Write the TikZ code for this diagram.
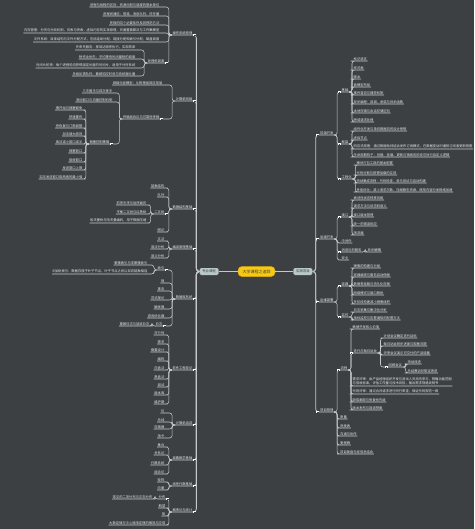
\documentclass[tikz,border=0pt]{standalone}
\usepackage{fontspec}
\newfontfamily\cjkfont{Noto Sans CJK SC}
\usetikzlibrary{positioning}

\definecolor{bg}{HTML}{3C4043}
\definecolor{linegray}{HTML}{C4C8C9}
\definecolor{leaftext}{HTML}{E6E8E8}
\definecolor{mainfill}{HTML}{B9C8C4}
\definecolor{centerfill}{HTML}{F6C915}
\definecolor{centerdraw}{HTML}{DFA90A}

\newcommand{\leaffont}{\cjkfont\fontsize{3.3}{4}\selectfont}

\tikzset{
  lleaf/.style={anchor=south east, inner sep=0.5pt, text=leaftext, font=\leaffont, yshift=-2pt},
  rleaf/.style={lleaf, anchor=south west, align=left},
  branch/.style={draw=linegray, line width=0.55pt, rounded corners=2.5pt},
  trunk/.style={draw=linegray, line width=0.8pt, rounded corners=3pt},
  foldbox/.style={rectangle, fill=white, minimum size=2.8pt, inner sep=0pt,
    path picture={\draw[bg, line width=0.35pt] ([xshift=0.6pt]path picture bounding box.west) -- ([xshift=-0.6pt]path picture bounding box.east);}},
  mainnode/.style={rounded corners=1.5pt, fill=mainfill, text=bg, font=\cjkfont\fontsize{3.4}{4}\selectfont,
    minimum width=19pt, minimum height=7pt, inner sep=0.5pt},
  centernode/.style={rounded corners=4pt, fill=centerfill, draw=centerdraw, line width=0.5pt, text=bg,
    font=\cjkfont\fontsize{4}{5}\selectfont, minimum width=37pt, minimum height=10pt, inner sep=0.5pt}
}

% children hanging to the left of a node
\newcommand{\lkids}[3]{%
  \foreach \yy/\lbl [count=\kk] in {#3} {
    \node[lleaf] (#1-\kk) at (#2,\yy) {\lbl};
    \draw[branch] (#1.south west) -- ++(-3,0) |- (#1-\kk.south east) -- (#1-\kk.south west);
  }}
% children hanging to the right of a node
\newcommand{\rkids}[3]{%
  \foreach \yy/\lbl [count=\kk] in {#3} {
    \node[rleaf] (#1-\kk) at (#2,\yy) {\lbl};
    \draw[branch] (#1.south east) -- ++(3,0) |- (#1-\kk.south west) -- (#1-\kk.south east);
  }}
% a folded sub topic: name, parent, x, y, text
\newcommand{\lsub}[5]{%
  \node[lleaf] (#1) at (#3,#4) {#5};
  \draw[branch] (#2.south west) -- ++(-3,0) |- (#1.south east) -- (#1.south west);
  \node[foldbox] at ([xshift=1.7pt]#1.south east) {};
}
\newcommand{\rsub}[5]{%
  \node[rleaf] (#1) at (#3,#4) {#5};
  \draw[branch] (#2.south east) -- ++(3,0) |- (#1.south west) -- (#1.south east);
  \node[foldbox] at ([xshift=-1.7pt]#1.south west) {};
}

\begin{document}
\begin{tikzpicture}[x=1pt,y=-1pt]
  \fill[bg] (0,0) rectangle (474,529);
  \useasboundingbox (0,0) rectangle (474,529);

  \node[centernode] (C) at (256.5,271.5) {大学课程之追踪};
  \node[mainnode, left=19pt of C] (LM) {专业课程};
  \node[mainnode, right=18pt of C] (RM) {实践项目};
  \draw[trunk] (LM) -- (C);
  \draw[trunk] (C) -- (RM);

  % left side
  \foreach \yy/\lbl/\nm in {33/操作系统原理/L1, 99/计算机网络/L2, 207/数据结构基础/L3,
      247/编译原理基础/L4, 297/数据库系统/L5, 368/软件工程导论/L6, 423/计算机组成/L7,
      458/离散数学基础/L8, 484/线性代数基础/L9, 510/概率论与统计/L10} {
    \node[lleaf] (\nm) at (193,\yy) {\lbl};
    \draw[trunk] (LM.west) -- ++(-3,0) |- (\nm.south east) -- (\nm.south west);
    \node[foldbox] at ([xshift=1.7pt]\nm.south east) {};
  }

  \lkids{L1}{160}{5/进程与线程的区别：资源分配与调度的基本单位,
    14/进程间通信：管道、消息队列、信号量,
    23/死锁的四个必要条件及其预防方法,
    31/内存管理：分页与分段机制，页表与快表，虚拟内存的实现原理，页面置换算法与工作集模型,
    40/文件系统：目录结构与文件分配方式，包括连续分配、链接分配和索引分配，磁盘调度}
  \lsub{L1a}{L1}{165}{61}{处理机调度}
  \lkids{L1a}{136}{48/先来先服务：按到达顺序执行，实现简单,
    57/短作业优先：平均等待时间最短的调度,
    66/时间片轮转：每个进程轮流获得固定长度的时间片，适用于分时系统,
    74/多级反馈队列：兼顾响应时间与系统吞吐量}

  \lkids{L2}{163}{83/网络分层模型：从物理层到应用层}
  \lsub{L2a}{L2}{160}{117}{传输层协议与可靠性传输}
  \lkids{L2a}{113}{91/三次握手与四次挥手, 100/滑动窗口与流量控制机制}
  \lsub{L2b}{L2a}{110}{142}{拥塞控制策略}
  \lkids{L2b}{83}{108/慢开始与拥塞避免, 117/快速重传, 126/快恢复与门限调整,
    134/加法增大原则, 142/乘法减小窗口减半, 151/拥塞窗口, 160/接收窗口,
    168/发送窗口上限, 177/实际发送窗口取两者的最小值}

  \lkids{L3}{165}{186/链表结构, 195/队列, 230/图论}
  \lsub{L3a}{L3}{165}{212}{二叉树}
  \lkids{L3a}{147}{203/前序中序与后序遍历, 212/平衡二叉树与红黑树,
    221/哈夫曼树与哈夫曼编码，用于数据压缩}

  \lkids{L4}{165}{239/文法, 247/语法分析, 256/语义分析}

  \lsub{L5a}{L5}{165}{268}{索引}
  \lkids{L5a}{148}{263/聚簇索引与非聚簇索引,
    272/B加树索引：数据存放于叶子节点，叶子节点之间以双向链表相连}
  \lkids{L5}{165}{281/锁, 289/事务, 298/范式理论, 307/触发器, 316/查询优化器}
  \lsub{L5b}{L5}{163}{324}{日志}
  \lkids{L5b}{150}{324/重做日志与回滚日志}

  \lkids{L6}{165}{333/可行性, 342/需求, 350/概要设计, 359/编码, 368/白盒法,
    377/黑盒法, 385/调试, 393/版本库, 402/维护期}

  \lkids{L7}{165}{411/位, 420/总线, 427/存储器, 436/指令}
  \lkids{L8}{165}{445/集合, 453/关系论, 463/代数系统, 472/组合论}
  \lkids{L9}{165}{480/矩阵, 488/向量}

  \lsub{L10a}{L10}{166}{497}{分布}
  \lkids{L10a}{153}{497/常见的二项分布与正态分布}
  \lkids{L10}{166}{506/期望, 514/矩, 523/大数定律与中心极限定理的推导与应用}

  % right side
  \foreach \yy/\lbl/\nm in {133/前端开发/R1, 237/后端开发/R2, 300/运维部署/R3, 410/项目管理/R4} {
    \node[rleaf] (\nm) at (319.5,\yy) {\lbl};
    \draw[trunk] (RM.east) -- ++(3,0) |- (\nm.south west) -- (\nm.south east);
    \node[foldbox] at ([xshift=-1.7pt]\nm.south west) {};
  }

  \rsub{R1a}{R1}{341}{90}{基础}
  \rkids{R1a}{353}{59/标记语言, 68/样式表, 77/脚本, 85/盒模型布局, 93/事件冒泡与捕获机制,
    102/异步编程：回调、承诺与异步函数, 111/本地存储与会话存储区别, 120/跨域请求处理}
  \rsub{R1b}{R1}{341}{142}{框架}
  \rkids{R1b}{353}{129/组件化开发与单向数据流的设计思想, 138/虚拟节点,
    147/响应式原理：通过数据劫持结合发布订阅模式，在数据变动时通知订阅者更新视图,
    155/生命周期钩子：创建、挂载、更新与销毁各阶段可执行自定义逻辑}
  \rsub{R1c}{R1}{341}{177}{工程化}
  \rkids{R1c}{356}{163/模块打包工具的基本配置, 173/代码分割与按需加载的实现,
    181/持续集成流程：代码检查、单元测试与自动构建,
    190/性能优化：减少请求次数、压缩静态资源、使用内容分发网络加速}

  \rsub{R2a}{R2}{341}{215}{接口}
  \rkids{R2a}{353}{198/表述性状态转移风格, 206/请求方法与状态码语义, 215/接口版本管理,
    224/统一的错误响应, 233/限流器}
  \rkids{R2}{341}{241/中间件, 258/安全}
  \rsub{R2b}{R2}{341}{250}{消息队列服务}
  \rkids{R2b}{367}{250/异步解耦}

  \rsub{R3a}{R3}{341}{284}{容器}
  \rkids{R3a}{353}{266/镜像的构建与分层, 275/容器编排与服务自动伸缩, 284/数据卷挂载与持久化存储,
    293/网络模式与端口映射, 302/多阶段构建减小镜像体积}
  \rsub{R3b}{R3}{341}{315}{监控}
  \rkids{R3b}{353}{310/日志采集与集中化分析, 318/指标监控与告警通知的配置方法}

  \rsub{R4a}{R4}{340}{368}{流程}
  \rkids{R4}{339.5}{417/质量, 426/进度表, 434/沟通与协作, 443/里程碑, 452/项目复盘与经验总结会}
  \rkids{R4a}{352}{327/敏捷开发核心价值,
    384/需求评审：由产品经理组织开发与测试人员共同参与，明确功能范围\\与验收标准，评估工作量与技术风险，输出需求规格说明书,
    392/代码评审：通过合并请求进行同行审查，保证代码规范一致,
    400/缺陷跟踪与修复优先级, 408/版本发布与回滚预案}
  \rsub{R4b}{R4a}{353}{351}{迭代与每日站会}
  \rkids{R4b}{383}{336/计划会议确定迭代目标, 344/每日站会同步进度与阻塞问题,
    353/评审会议演示可交付的产品增量}
  \rsub{R4c}{R4b}{388}{365}{回顾会议}
  \rkids{R4c}{407}{362/持续改进, 371/总结教训并制定改进}
\end{tikzpicture}
\end{document}
